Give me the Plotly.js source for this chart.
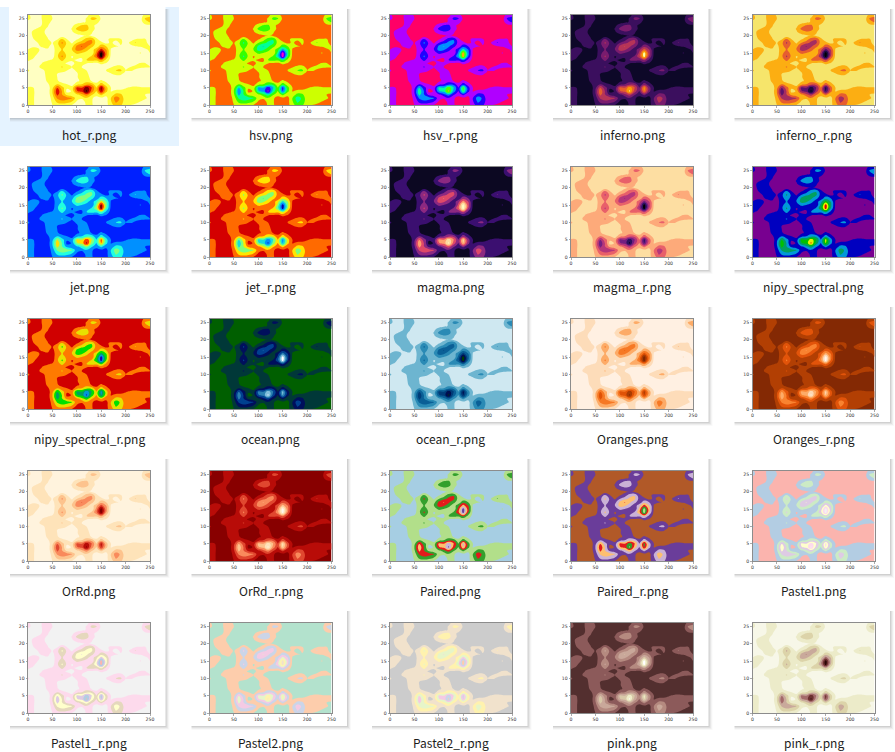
<!DOCTYPE html>
<html><head><meta charset="utf-8">
<script src="https://cdn.plot.ly/plotly-3.0.1.min.js"></script>
<style>html,body{margin:0;padding:0;background:#fff;overflow:hidden}#g{width:895px;height:752px}</style>
</head><body><div id="g"></div>
<script>
const xValues=[0,10,20,30,40,50,60,70,80,90,100,110,120,130,140,150,160,170,180,190,200,210,220,230,240,250];
const yValues=[26,25,24,23,22,21,20,19,18,17,16,15,14,13,12,11,10,9,8,7,6,5,4,3,2,1,0];
const zValues=[
[1.2,.6,.2,1.2,1.3,.9,.3,.2,.2,.2,.2,.3,.6,1.5,1.4,.6,.2,.2,.2,.2,.2,.2,.2,.3,1.4,1.6],
[1.3,.7,.2,1.2,1.4,1.0,.3,.2,.2,.2,.2,.5,1.1,2.2,2.1,.8,.4,.7,.4,.2,.2,.2,.2,.5,2.1,2.4],
[.7,.4,.2,1.1,1.3,.8,.3,.2,.2,.2,.4,.7,1.1,1.7,1.4,.6,.3,.3,.2,.2,.2,.2,.2,.4,1.7,2.1],
[.4,.4,.7,1.1,1.1,.5,.2,.2,.3,.7,1.6,2.1,2.2,1.3,.8,.3,.2,.2,.2,.2,.2,.2,.2,.3,.6,.8],
[.3,.8,1.1,1.2,.9,.3,.2,.2,.3,1.1,2.2,2.6,2.4,1.4,.8,.3,.2,.2,.2,.3,.6,.2,.2,.2,.2,.2],
[.3,1.2,1.4,1.2,.7,.2,.2,.2,.2,.8,1.5,1.8,1.7,1.1,.6,.2,.2,.2,.2,.2,.3,.2,.2,.2,.2,.2],
[.3,1.1,1.4,1.3,.9,.3,.2,.3,.3,.3,.5,.8,1.0,.9,.5,.2,.2,.4,.5,.4,.2,.2,.2,.3,.3,.2],
[.3,.9,1.4,1.4,1.1,.5,.9,2.2,1.0,.4,.9,1.4,2.6,2.9,1.3,.4,.8,1.2,1.2,1.1,.4,.6,1.0,1.1,1.1,.5],
[.4,.6,1.0,1.3,1.4,.9,1.7,3.2,1.7,.8,1.9,2.6,3.2,3.3,1.6,1.3,.7,1.2,.6,1.2,.5,1.2,2.1,1.4,1.2,.7],
[.6,.9,.9,1.1,1.2,.7,1.6,2.6,1.6,1.6,3.2,4.1,3.2,2.4,1.3,2.6,2.0,1.2,1.1,.9,.4,.8,1.0,1.1,1.2,1.0],
[1.0,1.2,1.1,.8,.9,.6,1.5,2.1,1.4,2.0,3.4,3.2,2.5,1.4,2.6,4.4,3.0,.9,.5,.3,.3,.3,.4,.6,.9,1.1],
[1.2,1.3,1.0,.6,.5,.5,1.7,2.6,1.6,1.6,2.2,2.0,1.5,1.0,3.3,6.6,3.4,.8,.3,.3,.2,.2,.4,1.1,.6,1.0],
[1.3,1.2,.7,.4,.4,.6,1.8,3.2,1.7,.9,1.3,1.2,1.2,2.2,3.6,6.5,3.0,.7,.3,.2,.2,.2,.2,.4,.4,.8],
[1.1,.9,.5,.7,.9,1.1,1.5,2.3,1.3,1.1,.9,.8,2.0,2.3,2.2,3.2,1.7,.6,.3,.2,.2,.2,.3,.4,.5,.5],
[.8,.5,.5,1.1,1.3,1.2,1.0,1.2,.9,.8,1.2,1.2,1.0,.8,.7,1.2,.9,.4,.3,.3,.4,.5,.8,1.1,1.1,.5],
[.4,.4,.9,1.2,1.4,1.2,1.6,2.1,1.4,1.0,1.1,1.0,.8,.6,.4,.4,.5,.9,1.4,1.5,.6,1.0,1.2,1.2,1.1,1.0],
[1.2,.5,.6,.9,1.2,1.5,1.3,1.4,1.0,.8,1.1,1.3,1.0,.6,.3,.3,1.0,1.4,2.0,2.2,1.0,1.1,.9,.6,.5,.4],
[.7,.3,.4,.8,1.2,1.4,1.0,.7,.6,.6,.9,1.4,1.2,.6,.3,.3,.5,.9,1.4,1.3,.4,.5,.4,.3,.2,.2],
[.2,.2,.3,.7,1.2,1.3,1.0,.6,.5,.5,.9,1.4,1.4,.7,.3,.2,.2,.2,.3,.3,.2,.2,.2,.2,.2,.2],
[.2,.2,.3,.7,1.1,1.3,1.1,.6,.5,.5,.8,1.2,1.5,.9,.6,1.2,.6,.2,.2,.2,.2,.2,.2,.2,.2,.2],
[.2,.2,.3,.5,.9,1.3,2.0,1.3,1.0,.7,1.4,2.0,2.6,2.6,1.3,2.4,1.6,.4,.2,.2,.2,.3,.3,.3,.2,.2],
[1.2,1.1,.5,.3,.4,1.7,3.9,2.4,1.2,1.3,4.2,4.0,5.6,4.2,2.0,5.4,2.4,1.0,.4,.6,.9,1.2,1.4,1.2,1.1,1.1],
[1.3,1.2,.5,.2,.3,2.0,4.8,2.9,.6,1.1,3.9,4.3,6.2,3.6,1.9,5.0,2.3,.9,1.3,1.3,1.4,1.1,1.2,1.3,1.3,1.2],
[1.3,1.2,.5,.2,.3,1.8,4.3,3.0,1.6,1.0,1.7,2.7,3.6,2.2,1.4,2.3,1.4,1.4,2.3,2.2,1.2,1.2,1.2,1.2,1.0,.9],
[1.4,1.2,.4,.2,.3,1.4,3.2,3.7,3.5,3.1,1.3,1.1,1.9,1.2,.6,.8,.6,2.0,3.6,2.8,1.3,1.2,1.3,1.2,1.1,.8],
[1.4,1.2,.4,.2,.3,1.2,2.3,2.7,2.5,2.0,.9,.7,1.2,1.1,.6,1.0,.6,1.9,3.2,2.7,1.3,1.2,1.2,1.0,.8,.6],
[1.4,1.2,.4,.2,.3,1.0,1.4,1.5,1.3,1.0,.5,.6,1.1,1.1,.7,1.0,.7,1.5,2.6,2.2,1.2,1.0,.9,.7,.5,.5]
];
const panelNames=["hot_r.png","hsv.png","hsv_r.png","inferno.png","inferno_r.png",
"jet.png","jet_r.png","magma.png","magma_r.png","nipy_spectral.png",
"nipy_spectral_r.png","ocean.png","ocean_r.png","Oranges.png","Oranges_r.png",
"OrRd.png","OrRd_r.png","Paired.png","Paired_r.png","Pastel1.png",
"Pastel1_r.png","Pastel2.png","Pastel2_r.png","pink.png","pink_r.png"];
const panelColors=[
["#ffffc2","#ffff40","#ffc800","#ff8000","#e01000","#800000","#100000"],
["#ff6400","#cdff00","#33ff00","#00ff9a","#0099ff","#3300ff","#ff00cd"],
["#ff0066","#b000ff","#2000ff","#0090ff","#00ffa0","#50ff00","#ffb000"],
["#0d0828","#3b0f5e","#7a1c6e","#b63458","#e75f2c","#fb9a06","#fcffa4"],
["#f6e56b","#fcae12","#e65d2f","#a52c60","#5c126e","#1b0c41","#000004"],
["#0020ff","#0090ff","#20ffe0","#80ff80","#ffe000","#ff4000","#800000"],
["#d40000","#ff6a00","#ffe600","#7dff7a","#18dcdc","#0090ff","#0000b0"],
["#0c0822","#3b0f70","#8c2981","#de4968","#fe9f6d","#fcd9a0","#fcfdbf"],
["#fddea2","#fdaa7a","#e8606a","#b5367a","#721f81","#2c115f","#000004"],
["#780090","#0000c0","#0098d8","#00a060","#00c000","#e8f000","#e00000"],
["#d00000","#ff7a00","#e8e000","#00e000","#00a060","#0098d8","#1800b8"],
["#005f00","#003838","#000f5c","#004090","#2a80b0","#80bfdc","#ffffff"],
["#cfe8f1","#6db5d0","#2a8ab5","#0a5f96","#003c78","#000f50","#004000"],
["#fff0e2","#fddcb9","#fdab67","#f67824","#e05206","#a93c03","#7f2704"],
["#842904","#b23f03","#e2540a","#f98330","#fdac68","#fdd8b4","#fff5eb"],
["#fff3dd","#fee3b9","#fdc38d","#f98a5c","#e0472f","#b80c08","#7f0000"],
["#880000","#b80c08","#e0472f","#f98a5c","#fdc38d","#fee3b9","#fff7ec"],
["#a6cee3","#b2df8a","#33a02c","#e31a1c","#fdbf6f","#cab2d6","#6a3d9a"],
["#b15928","#6a3d9a","#cab2d6","#fdbf6f","#e31a1c","#33a02c","#b2df8a"],
["#fbb4ae","#b3cde3","#ccebc5","#decbe4","#ffffcc","#fddaec","#f2f2f2"],
["#f2f2f2","#fddaec","#e5d8bd","#ffffcc","#decbe4","#b3cde3","#fbb4ae"],
["#b3e2cd","#fdcdac","#cbd5e8","#f4cae4","#e6f5c9","#fff2ae","#f1e2cc"],
["#cccccc","#f1e2cc","#fff2ae","#e6f5c9","#f4cae4","#cbd5e8","#fdcdac"],
["#532f2f","#8c5a5a","#b58a80","#c9a89a","#d8c8a8","#efecc8","#ffffff"],
["#f7f7e8","#ecebc9","#dcd3a9","#c9a99b","#a46a6a","#6d3030","#2a0505"]
];
const columnLefts=[28,209.5,390,571,752.5];
const rowTops=[15,167,319,471,623];
const plotW=122, plotH=90;
const W=895,H=752;
const xTicks=[0,50,100,150,200,250], yTicks=[0,5,10,15,20,25];
const traces=[],shapes=[],annotations=[],layout={};
shapes.push({type:"rect",xref:"paper",yref:"paper",x0:0,x1:179/W,y0:1-146/H,y1:1-7/H,fillcolor:"#e5f3ff",line:{width:0},layer:"below"});
panelNames.forEach((name,i)=>{
  const c=i%5,r=Math.floor(i/5),L=columnLefts[c],T=rowTops[r];
  const suffix=i===0?"":String(i+1);
  const n=panelColors[i].length;
  const scale=panelColors[i].map((col,k)=>[k/(n-1),col]);
  traces.push({type:"contour",x:xValues,y:yValues,z:zValues,xaxis:"x"+suffix,yaxis:"y"+suffix,
    autocontour:false,contours:{start:1,end:6,size:1,coloring:"fill",showlines:false},
    colorscale:scale,showscale:false,line:{width:0,smoothing:1.3},hoverinfo:"skip"});
  const ax={showgrid:false,zeroline:false,showline:true,mirror:true,linecolor:"#8c8c8c",linewidth:1,
    ticks:"outside",ticklen:1.5,tickwidth:.5,tickcolor:"#555",tickfont:{size:4.6,color:"#333",family:"DejaVu Sans"},
    automargin:false};
  layout["xaxis"+suffix]=Object.assign({},ax,{domain:[L/W,(L+plotW)/W],range:[0,250],tickvals:xTicks,ticktext:xTicks.map(String),anchor:"y"+suffix});
  layout["yaxis"+suffix]=Object.assign({},ax,{domain:[1-(T+plotH)/H,1-T/H],range:[0,26],tickvals:yTicks,ticktext:yTicks.map(String),anchor:"x"+suffix});
  const cardL=L-19,cardR=L+plotW+15.5,cardT=Math.max(T-14,7),cardB=T+plotH+13;
  for(let s=4;s>=1;s--){
    shapes.push({type:"rect",xref:"paper",yref:"paper",x0:(cardL+1)/W,x1:(cardR+s)/W,y0:1-(cardB+s)/H,y1:1-(cardT+2)/H,
      fillcolor:"rgba(90,90,90,"+(0.14-.025*s)+")",line:{width:0},layer:"below"});
  }
  shapes.push({type:"rect",xref:"paper",yref:"paper",x0:cardL/W,x1:cardR/W,y0:1-cardB/H,y1:1-cardT/H,fillcolor:"#ffffff",line:{width:0},layer:"below"});
  annotations.push({xref:"paper",yref:"paper",x:(L+61)/W,y:1-(T+119.5)/H,text:name,showarrow:false,xanchor:"center",yanchor:"middle",
    font:{size:12,color:"#1c1c1c",family:"Noto Sans CJK SC, Noto Sans, sans-serif"}});
});
Object.assign(layout,{width:W,height:H,margin:{l:0,r:0,t:0,b:0},paper_bgcolor:"#ffffff",plot_bgcolor:"#ffffff",showlegend:false,shapes,annotations});
Plotly.newPlot("g",traces,layout,{displayModeBar:false,staticPlot:true});
</script></body></html>
